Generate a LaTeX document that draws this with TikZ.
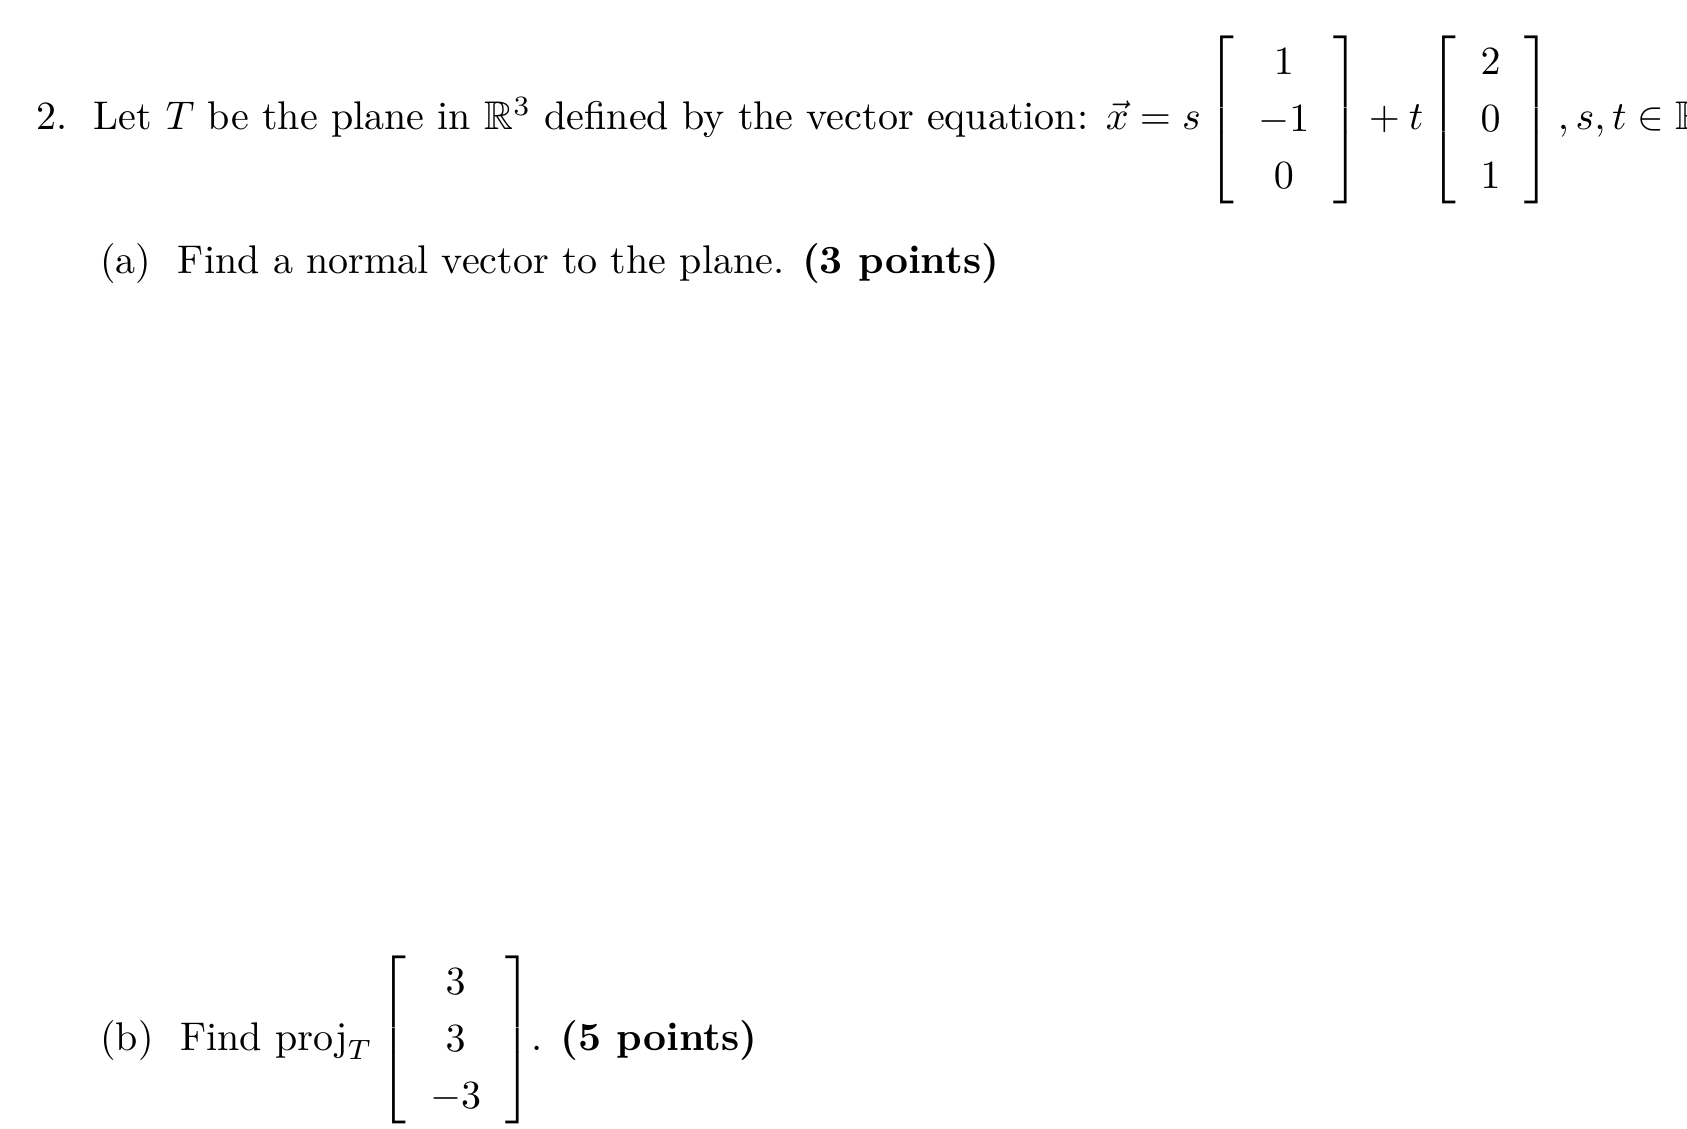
\documentclass[tikz,border=0pt]{standalone}
\usepackage{graphicx}
\usepackage{amsmath,amssymb}
\tikzset{txt/.style={anchor=base west,inner sep=0pt}}
\newcommand{\mvec}[3]{\left[\renewcommand{\arraystretch}{1.19}\setlength{\arraycolsep}{6pt}\begin{array}{c}#1\\#2\\#3\end{array}\right]}
\begin{document}
\begin{tikzpicture}[x=1pt,y=-1pt]
\useasboundingbox (0,0) rectangle (1687,1129);
\node[txt] (q) at (36,130) {\scalebox{4}{2.\ \ Let $T$ be the plane in $\mathbb{R}^3$ defined by the vector equation: $\vec{x}=s\mvec{1}{-1}{0}+t\mvec{2}{0}{1},s,t\in\mathbb{R}$.}};
\node[txt] (a) at (100,273) {\scalebox{4}{(a)\ \ Find a normal vector to the plane. \textbf{(3 points)}}};
\node[txt] (b) at (100,1050) {\scalebox{4}{(b)\ \ Find $\mathrm{proj}_T\mvec{3}{3}{-3}$. \textbf{(5 points)}}};
\end{tikzpicture}
\end{document}
